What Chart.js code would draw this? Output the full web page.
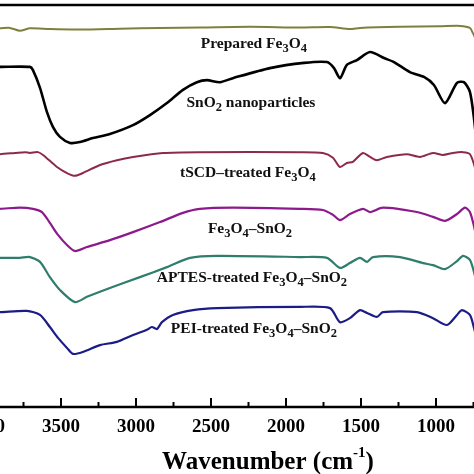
<!DOCTYPE html>
<html>
<head>
<meta charset="utf-8">
<script src="https://cdn.jsdelivr.net/npm/chart.js@4.4.1/dist/chart.umd.min.js"></script>
<style>
  html, body { margin: 0; padding: 0; background: #fff; }
  #wrap { position: relative; width: 474px; height: 474px; overflow: hidden; background: #fff; }
  #c { position: absolute; left: -54px; top: 0; }
</style>
</head>
<body>
<div id="wrap"><canvas id="c" width="620" height="474"></canvas></div>
<script>
// ---------- data (wavenumber cm-1, transmittance a.u.) ----------
const xMajorTicks = [4000, 3500, 3000, 2500, 2000, 1500, 1000, 500];
const xMinorTicks = [3750, 3250, 2750, 2250, 1750, 1250, 750];

const fe3o4Wn = [4000, 3907, 3840, 3774, 3707, 3574, 3374, 3107, 2840, 2574, 2240, 1907, 1707, 1574, 1507, 1240, 974, 840, 774, 754, 735];
const fe3o4T  = [94.2, 94.2, 94.3, 93.6, 94.2, 94.0, 93.9, 94.1, 94.3, 94.4, 94.6, 94.4, 94.5, 94.0, 94.3, 94.6, 94.7, 94.8, 94.3, 93.0, 91.5];

const sno2Wn = [4000, 3907, 3707, 3687, 3640, 3594, 3554, 3507, 3440, 3374, 3287, 3174, 3020, 2907, 2794, 2687, 2594, 2527, 2440, 2354, 2107, 1880, 1727, 1680, 1640, 1594, 1527, 1440, 1347, 1280, 1174, 1080, 1014, 940, 860, 814, 774, 747, 730];
const sno2T  = [84.6, 84.6, 84.6, 83.8, 79.4, 73.4, 69.7, 67.2, 65.7, 65.9, 66.9, 67.9, 70.1, 72.6, 75.6, 78.9, 80.8, 81.3, 80.8, 81.8, 84.3, 85.6, 85.8, 84.3, 81.8, 85.1, 86.3, 88.3, 86.8, 85.8, 83.3, 82.1, 80.1, 75.6, 80.6, 80.8, 78.4, 71.9, 66.0];

const tscdWn = [4000, 3907, 3807, 3740, 3707, 3654, 3620, 3527, 3460, 3407, 3354, 3240, 3127, 3020, 2820, 2574, 1907, 1754, 1687, 1640, 1594, 1554, 1487, 1440, 1394, 1327, 1194, 1107, 1020, 954, 887, 820, 774, 747, 730];
const tscdT  = [62.9, 62.9, 63.2, 63.4, 63.2, 63.4, 62.7, 59.7, 58.2, 57.5, 58.2, 60.2, 61.4, 62.2, 63.2, 63.4, 63.4, 63.2, 62.0, 59.7, 60.7, 61.0, 63.2, 62.2, 61.4, 62.2, 62.9, 62.2, 63.2, 62.7, 63.2, 63.4, 62.9, 60.4, 58.0];

const fesnWn = [4000, 3907, 3774, 3687, 3627, 3574, 3520, 3460, 3407, 3327, 3174, 3020, 2840, 2687, 2574, 2354, 1907, 1754, 1687, 1640, 1574, 1487, 1440, 1354, 1127, 1020, 940, 860, 807, 774, 747, 730];
const fesnT  = [49.3, 49.3, 49.6, 49.3, 48.5, 45.8, 42.8, 40.3, 38.8, 39.8, 41.5, 43.5, 46.0, 48.3, 49.3, 49.6, 49.3, 49.0, 47.8, 46.5, 48.0, 49.3, 48.5, 49.6, 48.5, 47.3, 46.3, 48.0, 49.6, 48.5, 45.0, 42.0];

const aptesWn = [4000, 3907, 3774, 3707, 3640, 3574, 3507, 3407, 3327, 3174, 2974, 2794, 2640, 2460, 1907, 1727, 1640, 1574, 1507, 1460, 1420, 1240, 1087, 1020, 940, 860, 820, 774, 747, 730];
const aptesT  = [37.1, 37.1, 37.1, 37.3, 36.1, 32.3, 29.1, 26.1, 27.4, 29.6, 32.3, 34.8, 37.1, 37.6, 37.3, 37.1, 34.6, 35.8, 37.1, 36.1, 37.3, 37.3, 35.8, 35.3, 34.3, 36.3, 37.6, 36.6, 33.6, 31.0];

const peiWn = [4000, 3907, 3727, 3640, 3574, 3520, 3460, 3420, 3354, 3240, 3127, 3020, 2927, 2894, 2860, 2827, 2754, 2620, 2460, 1907, 1707, 1640, 1574, 1507, 1460, 1394, 1354, 1127, 1020, 927, 860, 827, 774, 747, 730];
const peiT  = [23.6, 23.6, 23.9, 22.9, 19.9, 17.2, 14.7, 13.2, 13.7, 15.4, 16.2, 17.9, 19.2, 19.9, 19.4, 21.1, 22.9, 24.1, 24.6, 24.9, 24.6, 21.1, 22.1, 24.1, 23.4, 22.4, 23.6, 23.6, 22.1, 20.4, 22.9, 24.1, 22.9, 19.7, 17.0];

// ---------- helpers ----------
const zip = (xs, ys) => xs.map((x, i) => ({ x: x, y: ys[i] }));
const FONT = "'Liberation Serif', 'Times New Roman', serif";

const seriesLabels = [
  { parts: [['Prepared Fe'], ['3', 'sub'], ['O'], ['4', 'sub']], wn: 2214, t: 90.5 },
  { parts: [['SnO'], ['2', 'sub'], [' nanoparticles']], wn: 2234, t: 75.9 },
  { parts: [['tSCD\u2013treated Fe'], ['3', 'sub'], ['O'], ['4', 'sub']], wn: 2254, t: 58.5 },
  { parts: [['Fe'], ['3', 'sub'], ['O'], ['4', 'sub'], ['\u2013SnO'], ['2', 'sub']], wn: 2240, t: 44.5 },
  { parts: [['APTES-treated Fe'], ['3', 'sub'], ['O'], ['4', 'sub'], ['\u2013SnO'], ['2', 'sub']], wn: 2227, t: 32.3 },
  { parts: [['PEI-treated Fe'], ['3', 'sub'], ['O'], ['4', 'sub'], ['\u2013SnO'], ['2', 'sub']], wn: 2214, t: 19.7 }
];

function drawRich(ctx, parts, cx, cy, size, subSize, subDy, supDy) {
  const fontMain = 'bold ' + size + 'px ' + FONT;
  const fontSub = 'bold ' + subSize + 'px ' + FONT;
  let total = 0;
  parts.forEach(p => {
    ctx.font = p[1] ? fontSub : fontMain;
    total += ctx.measureText(p[0]).width;
  });
  let x = cx - total / 2;
  ctx.textAlign = 'left';
  ctx.textBaseline = 'alphabetic';
  const base = cy + size * 0.33;
  parts.forEach(p => {
    ctx.font = p[1] ? fontSub : fontMain;
    let y = base;
    if (p[1] === 'sub') y = base + subDy;
    if (p[1] === 'sup') y = base - supDy;
    ctx.fillText(p[0], x, y);
    x += ctx.measureText(p[0]).width;
  });
}

const framePlugin = {
  id: 'frame',
  afterDatasetsDraw(chart) {
    const { ctx, chartArea: a } = chart;
    const xs = chart.scales.x;
    ctx.save();
    ctx.strokeStyle = '#000';
    ctx.lineWidth = 2.5;
    ctx.strokeRect(a.left, a.top, a.right - a.left, a.bottom - a.top);
    ctx.lineWidth = 2;
    xMajorTicks.forEach(v => {
      const px = xs.getPixelForValue(v);
      ctx.beginPath(); ctx.moveTo(px, a.bottom); ctx.lineTo(px, a.bottom - 9); ctx.stroke();
    });
    xMinorTicks.forEach(v => {
      const px = xs.getPixelForValue(v);
      ctx.beginPath(); ctx.moveTo(px, a.bottom); ctx.lineTo(px, a.bottom - 5); ctx.stroke();
    });
    ctx.restore();
  },
  afterDraw(chart) {
    const { ctx } = chart;
    const xs = chart.scales.x, ys = chart.scales.y;
    ctx.save();
    ctx.fillStyle = '#111';
    seriesLabels.forEach(l => {
      drawRich(ctx, l.parts, xs.getPixelForValue(l.wn), ys.getPixelForValue(l.t), 15.5, 12.5, 4, 0);
    });
    // axis title
    ctx.fillStyle = '#000';
    drawRich(ctx, [['Wavenumber (cm'], ['-1', 'sup'], [')']], xs.getPixelForValue(2120), 461, 25, 15, 0, 12);
    ctx.restore();
  }
};

new Chart(document.getElementById('c'), {
  type: 'line',
  data: {
    datasets: [
      { label: 'Prepared Fe3O4', data: zip(fe3o4Wn, fe3o4T), borderColor: '#80803e', borderWidth: 2 },
      { label: 'SnO2 nanoparticles', data: zip(sno2Wn, sno2T), borderColor: '#000000', borderWidth: 2.6 },
      { label: 'tSCD-treated Fe3O4', data: zip(tscdWn, tscdT), borderColor: '#8c2a4c', borderWidth: 2 },
      { label: 'Fe3O4-SnO2', data: zip(fesnWn, fesnT), borderColor: '#8c1a8c', borderWidth: 2.2 },
      { label: 'APTES-treated Fe3O4-SnO2', data: zip(aptesWn, aptesT), borderColor: '#2f7d6c', borderWidth: 2.2 },
      { label: 'PEI-treated Fe3O4-SnO2', data: zip(peiWn, peiT), borderColor: '#1c1c86', borderWidth: 2.2 }
    ]
  },
  options: {
    responsive: false,
    animation: false,
    devicePixelRatio: 1,
    layout: { padding: { left: 40, right: 40, top: 5, bottom: 0 } },
    elements: { point: { radius: 0 }, line: { tension: 0.25, borderCapStyle: 'round', borderJoinStyle: 'round' } },
    plugins: { legend: { display: false }, tooltip: { enabled: false } },
    scales: {
      x: {
        type: 'linear',
        min: 400,
        max: 4000,
        reverse: true,
        grid: { display: false, drawTicks: false },
        border: { display: false },
        afterBuildTicks: (scale) => { scale.ticks = xMajorTicks.map(v => ({ value: v })); },
        afterFit: (scale) => { scale.height = 67; scale.paddingLeft = 0; scale.paddingRight = 0; },
        ticks: {
          autoSkip: false,
          maxRotation: 0,
          padding: 9,
          color: '#000',
          font: { family: FONT, size: 19, weight: 'bold' },
          callback: (v) => String(v)
        }
      },
      y: { display: false, min: 0, max: 100 }
    }
  },
  plugins: [framePlugin]
});
</script>
</body>
</html>
